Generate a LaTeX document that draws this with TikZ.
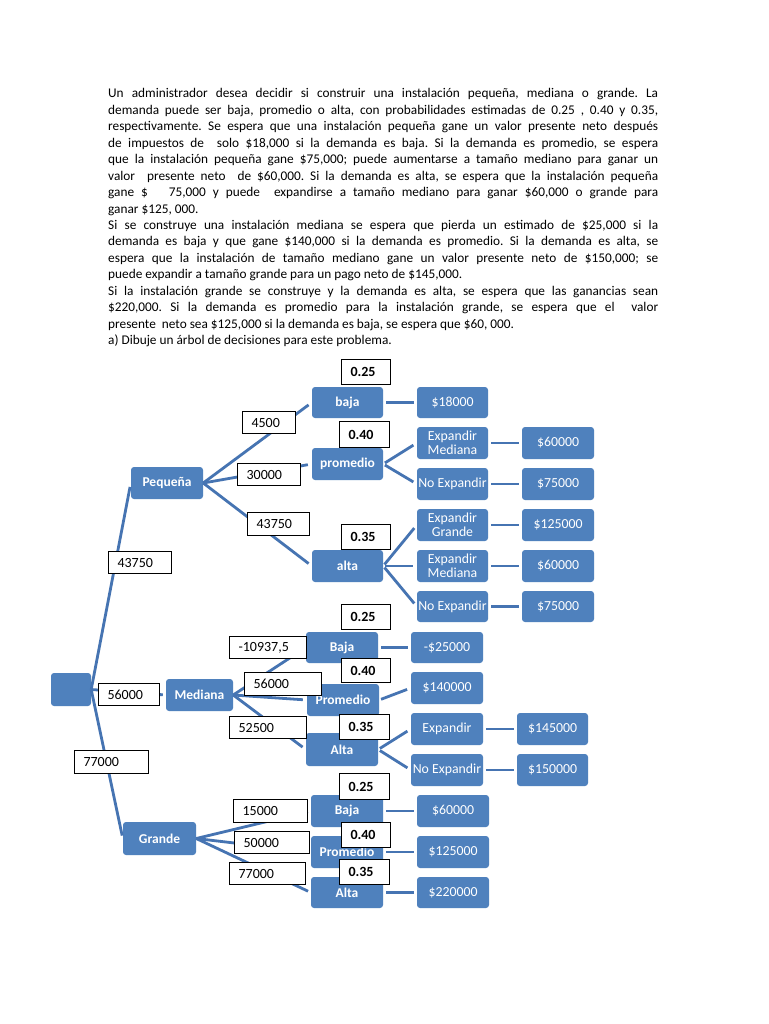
\documentclass[tikz,border=0pt]{standalone}
\usepackage{fontspec}
\setmainfont{Carlito}
\definecolor{smartblue}{RGB}{79,129,189}
\definecolor{linkblue}{RGB}{70,116,178}
\newcommand{\fullline}[1]{\makebox[550pt][s]{#1}}

\begin{document}
\frenchspacing
\begin{tikzpicture}[x=1pt,y=-1pt,
    smartbox/.style={fill=smartblue, rounded corners=3pt, text=white, minimum width=72pt,
      minimum height=32pt, inner sep=0pt, align=center, font=\fontsize{13.8}{14}\selectfont},
    headbox/.style={smartbox, font=\fontsize{13.5}{14}\selectfont\bfseries},
    valbox/.style={draw=black, line width=1.1pt, fill=white, anchor=north west, minimum height=22pt,
      inner xsep=9pt, inner ysep=0pt, text width=#1, align=left, font=\fontsize{14}{16}\selectfont},
    probbox/.style={valbox=#1, minimum height=25pt, font=\fontsize{14}{16}\selectfont\bfseries},
    link/.style={draw=linkblue, line width=2.8pt},
    stub/.style={link, line width=2.5pt, shorten <=3pt, shorten >=3pt}]
  \useasboundingbox[fill=white] (0,0) rectangle (768,1024);

  % Problem statement
  \node[anchor=north west, inner sep=0pt, align=left, font=\fontsize{13.3}{16.45}\selectfont] (enunciado) at (108,88.5) {%
    \fullline{Un administrador desea decidir si construir una instalación pequeña, mediana o grande. La}\\
    \fullline{demanda puede ser baja, promedio o alta, con probabilidades estimadas de 0.25 , 0.40 y 0.35,}\\
    \fullline{respectivamente. Se espera que una instalación pequeña gane un valor presente neto después}\\
    \fullline{de impuestos de \ solo \$18,000 si la demanda es baja. Si la demanda es promedio, se espera}\\
    \fullline{que la instalación pequeña gane \$75,000; puede aumentarse a tamaño mediano para ganar un}\\
    \fullline{valor \ presente neto \ de \$60,000. Si la demanda es alta, se espera que la instalación pequeña}\\
    \fullline{gane \$ \ \ 75,000 y puede \ expandirse a tamaño mediano para ganar \$60,000 o grande para}\\
    ganar \$125, 000.\\
    \fullline{Si se construye una instalación mediana se espera que pierda un estimado de \$25,000 si la}\\
    \fullline{demanda es baja y que gane \$140,000 si la demanda es promedio. Si la demanda es alta, se}\\
    \fullline{espera que la instalación de tamaño mediano gane un valor presente neto de \$150,000; se}\\
    puede expandir a tamaño grande para un pago neto de \$145,000.\\
    \fullline{Si la instalación grande se construye y la demanda es alta, se espera que las ganancias sean}\\
    \fullline{\$220,000. Si la demanda es promedio para la instalación grande, se espera que el \ valor}\\
    presente \ neto sea \$125,000 si la demanda es baja, se espera que \$60, 000.\\
    a) Dibuje un árbol de decisiones para este problema.};

  % Decision node and first level
  \node[smartbox, minimum width=40pt, minimum height=33pt] (root) at (71,689.5) {};
  \node[headbox] (peq) at (167,483) {Pequeña};
  \node[headbox, minimum width=67pt] (med) at (199.5,695) {Mediana};
  \node[headbox, minimum width=73pt, minimum height=33pt] (gra) at (159.5,838.5) {Grande};

  % Pequeña branch
  \node[headbox, minimum width=71pt, minimum height=31pt] (pbaja) at (347.5,402.5) {baja};
  \node[headbox, minimum width=71pt] (pprom) at (347.5,464) {promedio};
  \node[headbox, minimum width=71pt] (palta) at (347.5,566) {alta};
  \node[smartbox, minimum width=71pt, minimum height=31pt] (pb1) at (452.5,402.5) {\$18000};
  \node[smartbox, minimum width=71pt] (pp1) at (452.5,443) {Expandir\\Mediana};
  \node[smartbox, minimum width=71pt] (pp2) at (452.5,484) {No Expandir};
  \node[smartbox, minimum width=71pt] (pa1) at (452.5,525) {Expandir\\Grande};
  \node[smartbox, minimum width=71pt] (pa2) at (452.5,566) {Expandir\\Mediana};
  \node[smartbox, minimum width=71pt, minimum height=31pt] (pa3) at (452.5,606.5) {No Expandir};
  \node[smartbox] (pp1v) at (558,443) {\$60000};
  \node[smartbox] (pp2v) at (558,484) {\$75000};
  \node[smartbox] (pa1v) at (558,525) {\$125000};
  \node[smartbox] (pa2v) at (558,566) {\$60000};
  \node[smartbox, minimum height=31pt] (pa3v) at (558,606.5) {\$75000};

  % Mediana branch
  \node[headbox, minimum height=31pt] (mbaja) at (342,647.5) {Baja};
  \node[headbox] (mprom) at (343,700) {Promedio};
  \node[headbox, minimum height=33pt] (malta) at (342,749.5) {Alta};
  \node[smartbox, minimum height=31pt] (mb1) at (447,647.5) {-\$25000};
  \node[smartbox] (mp1) at (447,688) {\$140000};
  \node[smartbox] (ma1) at (447,729) {Expandir};
  \node[smartbox] (ma2) at (447,770) {No Expandir};
  \node[smartbox, minimum width=71pt] (ma1v) at (552.5,729) {\$145000};
  \node[smartbox, minimum width=71pt] (ma2v) at (552.5,770) {\$150000};

  % Grande branch
  \node[headbox] (gbaja) at (347,811) {Baja};
  \node[headbox] (gprom) at (347,852) {Promedio};
  \node[headbox, minimum height=31pt] (galta) at (347,892.5) {Alta};
  \node[smartbox] (gb1) at (453,811) {\$60000};
  \node[smartbox] (gp1) at (453,852) {\$125000};
  \node[smartbox, minimum height=31pt] (ga1) at (453,892.5) {\$220000};

  % Connectors
  \draw[link, shorten >=4pt] (root.east) -- (peq.west);
  \draw[link, shorten >=3pt] (root.east) -- (med.west);
  \draw[link, shorten >=3pt] (root.east) -- (gra.west);
  \draw[link, shorten >=4pt] (peq.east) -- (pbaja.west);
  \draw[link, shorten >=4pt] (peq.east) -- (pprom.west);
  \draw[link, shorten >=4pt] (peq.east) -- (palta.west);
  \draw[link, shorten >=4pt] (med.east) -- (mbaja.west);
  \draw[link, shorten >=4pt] (med.east) -- (mprom.west);
  \draw[link, shorten >=4pt] (med.east) -- (malta.west);
  \draw[link, shorten >=3pt] (gra.east) -- (gbaja.west);
  \draw[link, shorten >=3pt] (gra.east) -- (gprom.west);
  \draw[link, shorten >=3pt] (gra.east) -- (galta.west);
  \draw[stub] (pbaja) -- (pb1);
  \draw[link, shorten <=2pt, shorten >=4pt] (pprom.east) -- (pp1.west);
  \draw[link, shorten <=2pt, shorten >=4pt] (pprom.east) -- (pp2.west);
  \draw[link, shorten <=2pt, shorten >=4pt] (palta.east) -- (pa1.west);
  \draw[link, shorten <=2pt, shorten >=4pt] (palta.east) -- (pa2.west);
  \draw[link, shorten <=2pt, shorten >=4pt] (palta.east) -- (pa3.west);
  \draw[stub] (pp1) -- (pp1v);
  \draw[stub] (pp2) -- (pp2v);
  \draw[stub] (pa1) -- (pa1v);
  \draw[stub] (pa2) -- (pa2v);
  \draw[stub] (pa3) -- (pa3v);
  \draw[stub] (mbaja) -- (mb1);
  \draw[link, shorten <=2pt, shorten >=4pt] (mprom.east) -- (mp1.west);
  \draw[link, shorten <=2pt, shorten >=4pt] (malta.east) -- (ma1.west);
  \draw[link, shorten <=2pt, shorten >=4pt] (malta.east) -- (ma2.west);
  \draw[stub] (ma1) -- (ma1v);
  \draw[stub] (ma2) -- (ma2v);
  \draw[stub] (gbaja) -- (gb1);
  \draw[stub] (gprom) -- (gp1);
  \draw[stub] (galta) -- (ga1);

  % Expected values
  \node[valbox=45pt] (vpeq) at (108,551) {43750};
  \node[valbox=43pt] (vmed) at (98,683) {56000};
  \node[valbox=56pt, minimum height=23pt] (vgra) at (74,750) {77000};
  \node[valbox=35pt] (vpb) at (242,411) {4500};
  \node[valbox=45pt] (vpp) at (237,463) {30000};
  \node[valbox=44pt, minimum height=23pt] (vpa) at (247,512) {43750};
  \node[valbox=59pt] (vmb) at (229,636) {-10937,5};
  \node[valbox=59pt, minimum height=23pt] (vmp) at (244,672) {56000};
  \node[valbox=59pt] (vma) at (229,716) {52500};
  \node[valbox=56pt, minimum height=23pt] (vgb) at (233,799) {15000};
  \node[valbox=57pt] (vgp) at (234,831) {50000};
  \node[valbox=58pt] (vga) at (229,862) {77000};

  % Probabilities
  \node[probbox=31pt] (prpb) at (341,359) {0.25};
  \node[probbox=32pt, minimum height=26pt] (prpp) at (339,421) {0.40};
  \node[probbox=31pt] (prpa) at (341,524) {0.35};
  \node[probbox=31pt] (prmb) at (341,604) {0.25};
  \node[probbox=31pt, minimum height=24pt] (prmp) at (341,658) {0.40};
  \node[probbox=32pt] (prma) at (339,714) {0.35};
  \node[probbox=32pt, minimum height=26pt] (prgb) at (339,773) {0.25};
  \node[probbox=31pt] (prgp) at (341,822) {0.40};
  \node[probbox=32pt] (prga) at (339,859) {0.35};
\end{tikzpicture}
\end{document}
